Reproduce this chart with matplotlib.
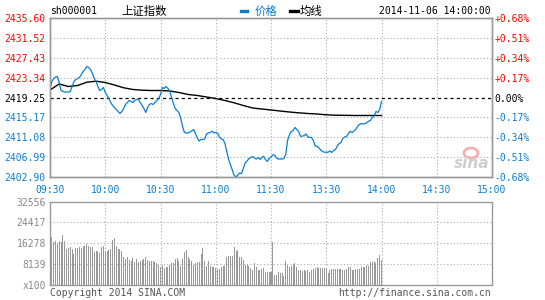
import numpy as np
import matplotlib
matplotlib.use("Agg")
import matplotlib.pyplot as plt
from matplotlib.patches import Ellipse

# ---------------- data ----------------
prev_close = 2419.25
price_am = [
    2421.10, 2422.54, 2423.16, 2423.47, 2423.57, 2422.34, 2420.69, 2420.48, 2420.38, 2420.38,
    2420.38, 2420.48, 2421.51, 2422.54, 2422.95, 2423.16, 2423.36, 2423.98, 2424.60, 2425.01,
    2425.63, 2425.42, 2425.01, 2424.19, 2423.16, 2422.54, 2421.51, 2420.69, 2420.90, 2421.31,
    2420.28, 2419.66, 2419.04, 2418.22, 2417.60, 2417.19, 2416.78, 2416.37, 2415.96, 2416.37,
    2416.99, 2417.81, 2418.22, 2418.63, 2418.43, 2418.22, 2418.63, 2418.84, 2418.94, 2418.22,
    2417.60, 2416.99, 2416.16, 2417.19, 2417.81, 2418.02, 2417.81, 2418.22, 2418.63, 2419.04,
    2419.87, 2421.31, 2421.10, 2421.51, 2421.10, 2420.69, 2419.25, 2418.02, 2416.99, 2416.58,
    2416.16, 2414.93, 2413.28, 2412.05, 2411.95, 2411.95, 2412.15, 2412.36, 2412.67, 2411.84,
    2410.92, 2410.30, 2410.61, 2410.61, 2410.71, 2411.74, 2411.95, 2412.05, 2412.32, 2411.99,
    2412.05, 2411.95, 2411.13, 2410.71, 2410.61, 2409.79, 2408.14, 2406.50, 2405.36, 2404.34,
    2403.21, 2402.94, 2403.31, 2403.72, 2403.62, 2404.75, 2405.82, 2406.19, 2406.70, 2406.91,
    2407.11, 2406.81, 2406.60, 2406.91, 2406.50, 2406.91, 2407.18, 2406.50, 2406.09, 2406.70,
    2407.01,
]
price_pm = [
    2407.42, 2407.42, 2406.81, 2406.60, 2406.60, 2406.60, 2406.70, 2407.53, 2410.40, 2411.54,
    2412.26, 2412.46, 2413.08, 2412.67, 2412.26, 2411.29, 2411.29, 2411.43, 2411.74, 2411.13,
    2411.08, 2411.02, 2410.40, 2409.23, 2409.23, 2408.90, 2408.45, 2408.14, 2408.00, 2408.00,
    2408.00, 2408.25, 2407.94, 2408.35, 2408.55, 2409.27, 2409.79, 2409.99, 2410.82, 2411.13,
    2411.23, 2411.84, 2412.32, 2412.05, 2412.36, 2412.67, 2413.28, 2413.70, 2413.90, 2413.80,
    2413.90, 2414.05, 2414.37, 2414.52, 2415.14, 2415.44, 2416.37, 2416.16, 2416.78, 2418.43,
]
avg_minute = [0, 5, 10, 15, 20, 25, 30, 35, 40, 45, 50, 55, 60, 65, 70, 75, 80, 85, 90,
              95, 100, 105, 110, 115, 120, 125, 130, 135, 140, 145, 150, 155, 160, 165,
              170, 175, 180]
avg_price = [2420.79, 2422.03, 2421.51, 2421.72, 2422.40, 2422.60, 2422.34, 2421.82, 2421.25,
             2420.90, 2420.75, 2420.69, 2420.69, 2420.59, 2420.28, 2419.87, 2419.66, 2419.35,
             2419.04, 2418.63, 2418.16, 2417.60, 2417.09, 2416.88, 2416.68, 2416.47, 2416.27,
             2416.10, 2415.96, 2415.86, 2415.69, 2415.61, 2415.59, 2415.55, 2415.55, 2415.55,
             2415.55]
volume_am = [
    20600, 18900, 16700, 17300, 16300, 17100, 16700, 19300, 17300, 14000,
    14500, 15000, 14000, 12100, 14300, 14300, 14700, 14300, 15400, 15400, 15800,
    15200, 15000, 14700, 13000, 13100, 13100, 12300, 14700, 15400, 12700, 13400,
    13700, 14000, 17700, 18300, 15100, 14000, 14000, 13100, 10800, 10100, 11000,
    9900, 9450, 10400, 9060, 10100, 8800, 9450, 9850, 10100, 10800, 9700,
    9400, 9200, 9200, 9060, 8530, 7900, 7100, 7750, 6570, 6830, 7100,
    7700, 8400, 8400, 10100, 10400, 9450, 7500, 10100, 12700, 13650, 11000,
    10200, 9450, 7900, 8400, 8800, 9060, 12100, 14300, 9450, 7500, 9450,
    7300, 7100, 7100, 6570, 6170, 6170, 7100, 7500, 7500, 10800, 11400,
    11400, 11400, 15000, 13400, 13650, 10800, 10800, 9850, 7900, 7750, 7500,
    6500, 5800, 8400, 6830, 5900, 5800, 6170, 6570, 5250, 5250, 5250, 5250,
]
volume_pm = [
    16700, 3940, 3940, 5250, 4860, 4860, 3545, 9450, 7880, 6830,
    7220, 8140, 8400, 6830, 5910, 5700, 5515, 5780, 5515, 5780,
    5250, 5780, 6170, 6565, 6830, 6565, 6565, 6565, 6565, 6565,
    4860, 5910, 6430, 6170, 6170, 6430, 6170, 6170, 5910, 5780,
    6400, 7090, 6830, 5910, 5910, 6430, 6430, 6170, 6830, 6830,
    6830, 7750, 7220, 8800, 9060, 9190, 8400, 10500, 11550, 9720,
]
time_ticks = [0, 30, 60, 90, 120, 150, 180, 210, 240]
time_labels = ["09:30", "10:00", "10:30", "11:00", "11:30", "13:30", "14:00", "14:30", "15:00"]
price_levels = [2402.90, 2406.99, 2411.08, 2415.17, 2419.25, 2423.34, 2427.43, 2431.52, 2435.60]
pct_labels = ["-0.68%", "-0.51%", "-0.34%", "-0.17%", "0.00%", "+0.17%", "+0.34%", "+0.51%", "+0.68%"]
vol_levels = [0, 8139, 16278, 24417, 32556]
vol_labels = ["x100", "8139", "16278", "24417", "32556"]

# ---------------- style ----------------
W, H = 545, 300
BLUE = "#0b7dd0"
RED = "#ff0000"
GRID = "#aaaaaa"
FRAME = "#999999"
MONO = "DejaVu Sans Mono"
FS = 7.0

def fx(px):
    return px / W

def fy(py):
    return 1 - py / H

fig = plt.figure(figsize=(W / 100, H / 100), dpi=100)
fig.patch.set_facecolor("white")

ax = fig.add_axes([fx(50), fy(177), 442 / W, 159 / H])
axv = fig.add_axes([fx(50), fy(285), 442 / W, 83.5 / H])

price = price_am + price_pm
xs = np.arange(len(price))
volume = volume_am + volume_pm
xv = np.arange(len(volume))

# main panel
ax.set_xlim(0, 240)
ax.set_ylim(price_levels[0], price_levels[-1])
for t in time_ticks[1:-1]:
    ax.axvline(t, color=GRID, lw=0.8, ls=(0, (1, 2)), zorder=1)
for lv in price_levels[1:-1]:
    if abs(lv - prev_close) < 1e-6:
        ax.axhline(lv, color="black", lw=0.9, ls=(0, (2.5, 2.5)), zorder=2)
    else:
        ax.axhline(lv, color=GRID, lw=0.8, ls=(0, (1, 2)), zorder=1)
ax.plot(avg_minute, avg_price, color="black", lw=1.0, zorder=3)
ax.plot(xs, price, color=BLUE, lw=0.9, zorder=4)

ax.set_xticks(time_ticks)
ax.set_xticklabels(time_labels, fontfamily=MONO, fontsize=FS, color=BLUE)
ax.set_yticks(price_levels)
ax.set_yticklabels([f"{v:.2f}" for v in price_levels], fontfamily=MONO, fontsize=FS)
for lab, v in zip(ax.get_yticklabels(), price_levels):
    lab.set_color(RED if v > prev_close + 1e-6 else ("black" if abs(v - prev_close) < 1e-6 else BLUE))
ax.tick_params(axis="both", length=0)
ax.tick_params(axis="x", pad=6)
ax.tick_params(axis="y", pad=3)

ax2 = ax.twinx()
ax2.set_ylim(ax.get_ylim())
ax2.set_yticks(price_levels)
ax2.set_yticklabels(pct_labels, fontfamily=MONO, fontsize=FS)
for lab, v in zip(ax2.get_yticklabels(), price_levels):
    lab.set_color(RED if v > prev_close + 1e-6 else ("black" if abs(v - prev_close) < 1e-6 else BLUE))
ax2.tick_params(axis="y", length=0, pad=2)

for a in (ax, ax2, axv):
    for s in a.spines.values():
        s.set_color(FRAME)
        s.set_linewidth(1.0)

# volume panel
axv.set_xlim(0, 240)
axv.set_ylim(0, vol_levels[-1])
for t in time_ticks[1:-1]:
    axv.axvline(t, color=GRID, lw=0.8, ls=(0, (1, 2)), zorder=1)
for lv in vol_levels[1:-1]:
    axv.axhline(lv, color=GRID, lw=0.8, ls=(0, (1, 2)), zorder=1)
axv.bar(xv, volume, width=0.55, color="#999999", linewidth=0, zorder=2)
axv.set_xticks([])
axv.set_yticks(vol_levels)
axv.set_yticklabels(vol_labels, fontfamily=MONO, fontsize=FS, color="#888888")
axv.tick_params(axis="y", length=0, pad=3)

# header texts
fig.text(fx(50), fy(11), "sh000001", fontfamily=MONO, fontsize=FS, color="black", va="center", ha="left")
fig.text(fx(121), fy(11), "上证指数", fontfamily=["Noto Sans CJK SC", "DejaVu Sans"], fontsize=8.2,
         color="black", va="center", ha="left")
fig.add_artist(plt.Line2D([fx(240.5), fx(247)], [fy(11), fy(11)], color=BLUE, lw=2.4))
fig.text(fx(255), fy(11), "价格", fontfamily=["Noto Sans CJK SC", "DejaVu Sans"], fontsize=8.2,
         color=BLUE, va="center", ha="left")
fig.add_artist(plt.Line2D([fx(290), fx(298)], [fy(11), fy(11)], color="black", lw=2.4))
fig.text(fx(300), fy(11), "均线", fontfamily=["Noto Sans CJK SC", "DejaVu Sans"], fontsize=8.2,
         color="black", va="center", ha="left")
fig.text(fx(491), fy(11), "2014-11-06 14:00:00", fontfamily=MONO, fontsize=FS, color="black",
         va="center", ha="right")

# footer texts
fig.text(fx(50), fy(293), "Copyright 2014 SINA.COM", fontfamily=MONO, fontsize=FS, color="#555555",
         va="center", ha="left")
fig.text(fx(491), fy(293), "http://finance.sina.com.cn", fontfamily=MONO, fontsize=FS, color="#555555",
         va="center", ha="right")

# watermark
fig.add_artist(Ellipse((fx(471), fy(153)), 14 / W, 10 / H, facecolor="none", edgecolor="#f3b0b0", lw=2.0))
fig.text(fx(472), fy(163), "sina", fontfamily="DejaVu Sans", fontsize=11, fontstyle="italic",
         fontweight="bold", color="#cfcfcf", va="center", ha="center")

fig.savefig("out.png", dpi=100)
